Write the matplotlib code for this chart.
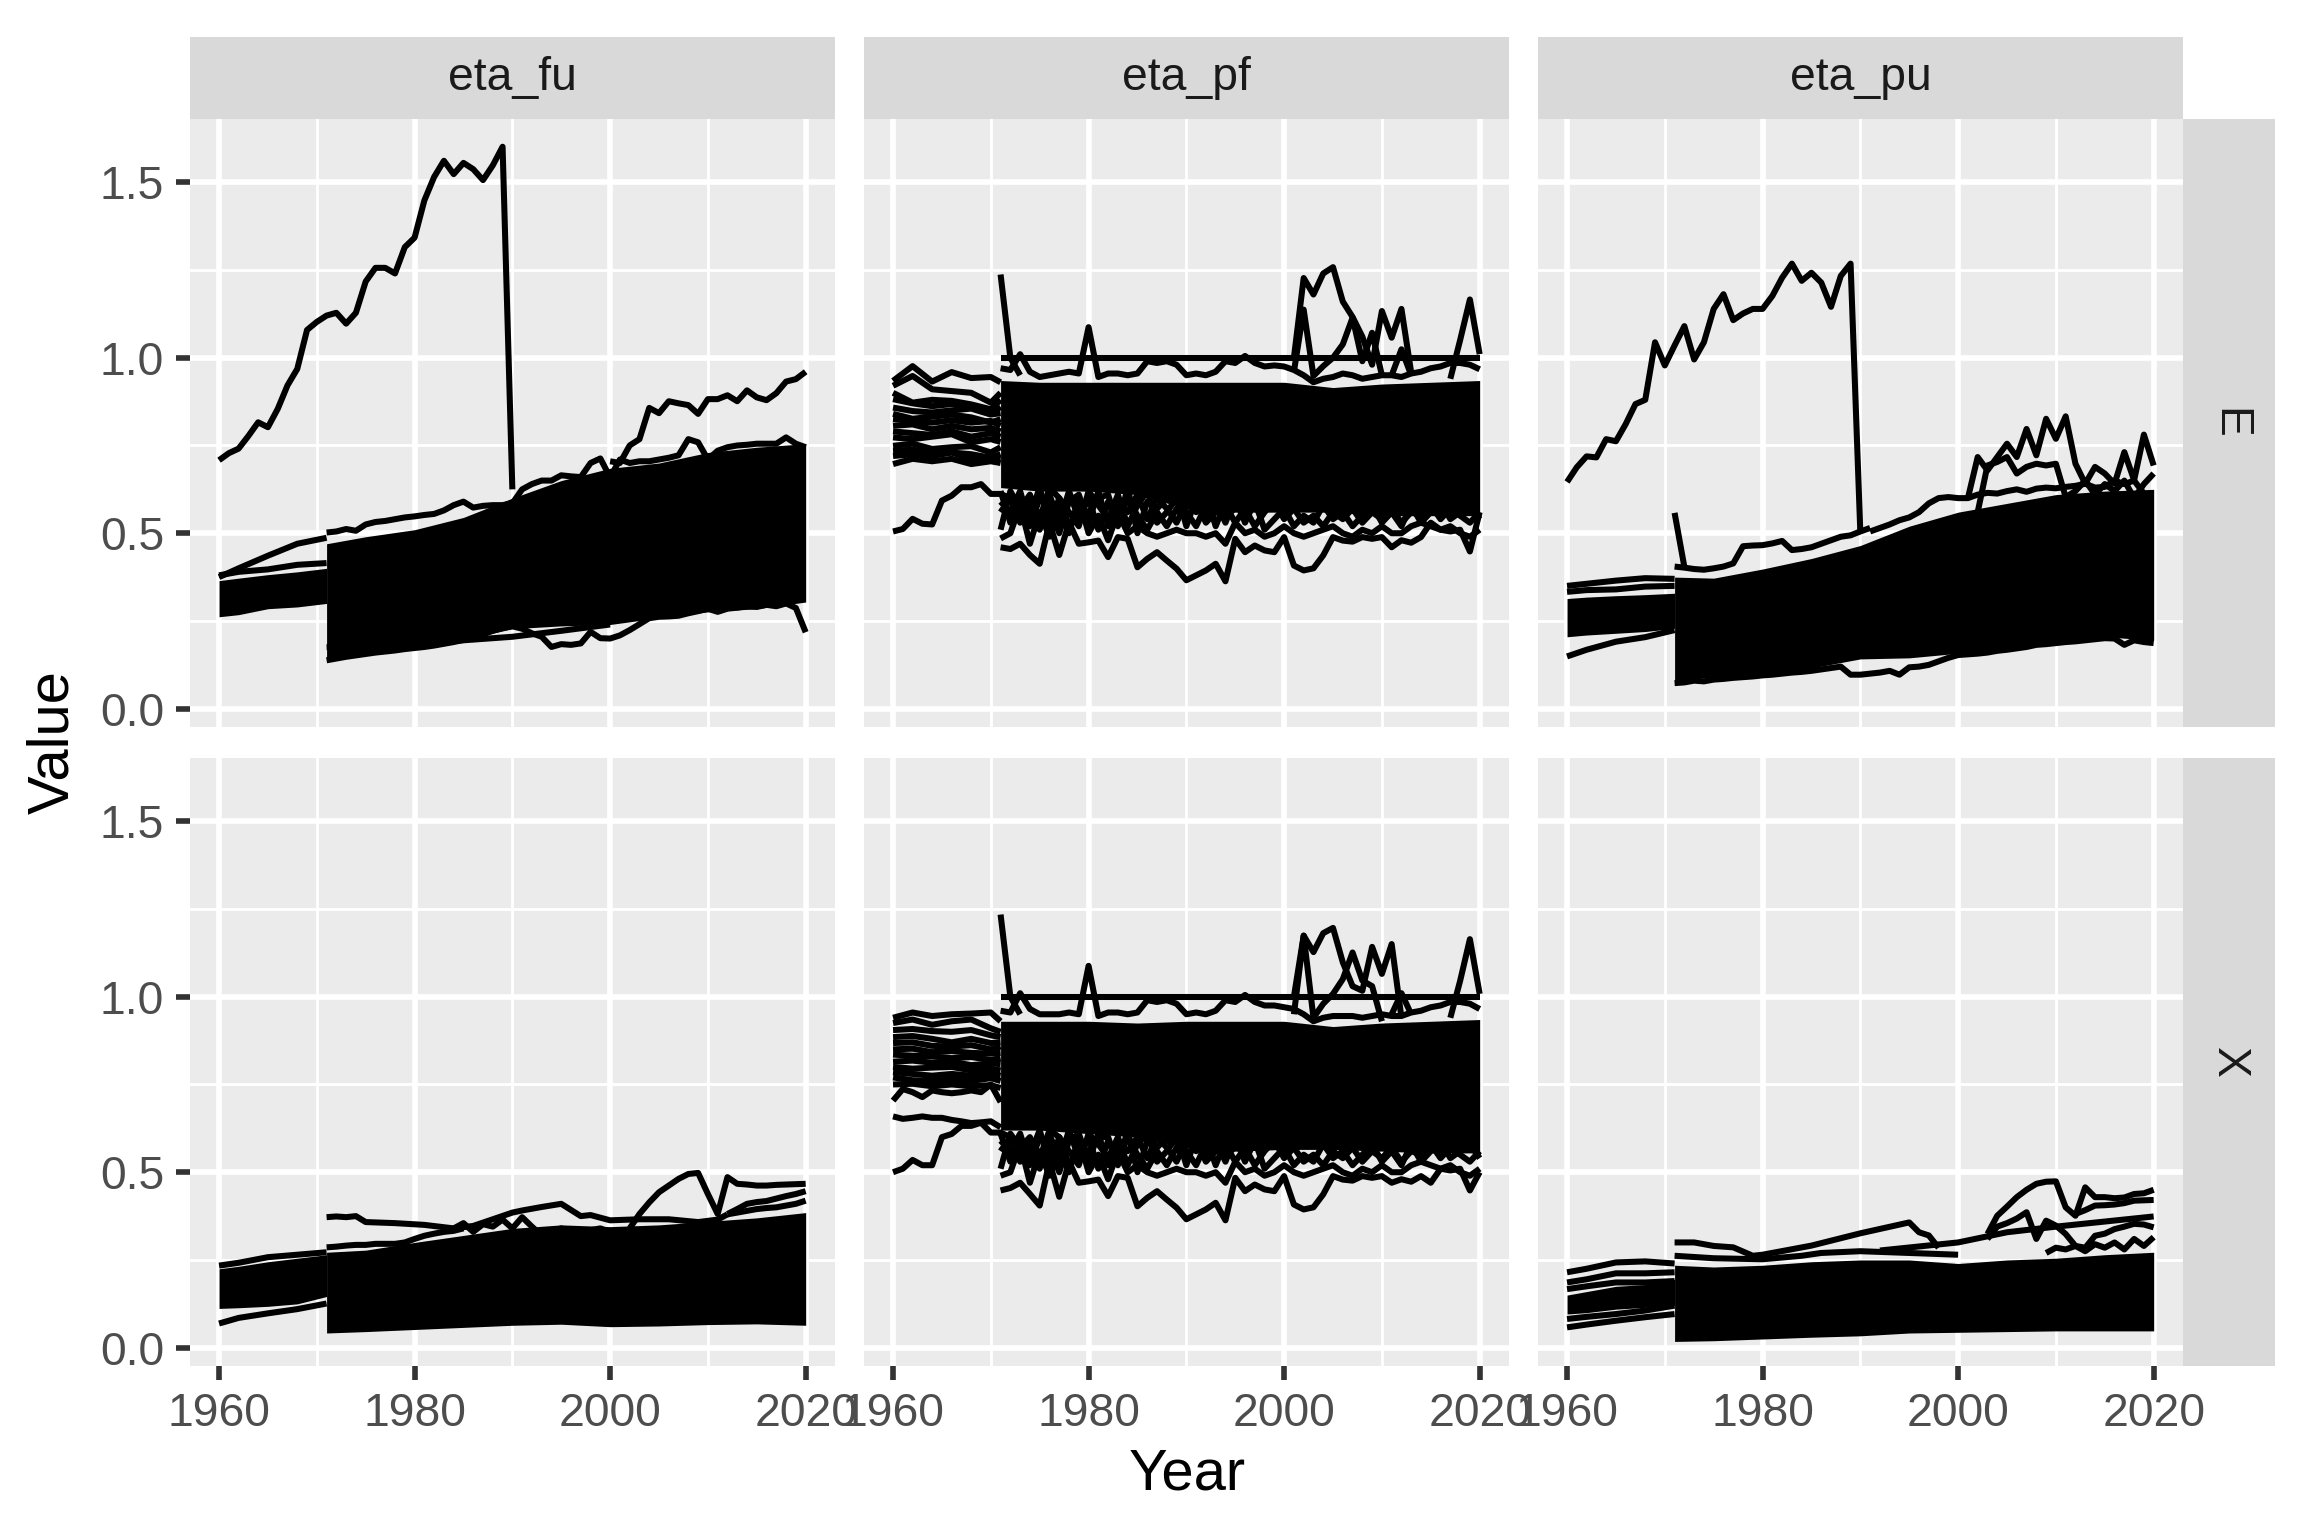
import matplotlib
matplotlib.use("Agg")
import matplotlib.pyplot as plt

plt.rcParams['font.family'] = ['Liberation Sans', 'DejaVu Sans']

COLS = ["eta_fu", "eta_pf", "eta_pu"]
ROWS = ["E", "X"]
X_TICKS = [1960, 1980, 2000, 2020]
X_MINOR = [1970, 1990, 2010]
Y_TICKS = [0.0, 0.5, 1.0, 1.5]
Y_MINOR = [0.25, 0.75, 1.25]
K = [1971, 1975, 1980, 1985, 1990, 1995, 2000, 2005, 2010, 2015, 2020]
KL = [1960, 1962, 1965, 1968, 1971]
KP = [1960, 1962, 1964, 1966, 1968, 1970, 1971]

# ---------- E / eta_fu ----------
E_FU_BODY_LO = [.138, .156, .173, .196, .228, .236, .240, .259, .276, .285, .304]
E_FU_BODY_HI = [.470, .490, .510, .545, .600, .650, .685, .700, .730, .745, .755]
E_FU_LEFT_LO = [.262, .268, .285, .290, .300]
E_FU_LEFT_HI = [.365, .372, .382, .390, .400]
E_FU_SPIKE = [.708, .728, .741, .777, .816, .802, .854, .921, .968, 1.079, 1.102, 1.12, 1.128, 1.097, 1.128, 1.217,
              1.256, 1.256, 1.24, 1.315, 1.342, 1.448, 1.515, 1.561, 1.523, 1.555, 1.537, 1.506, 1.548, 1.601, .625]
E_FU_HIGH = [.705, .700, .750, .768, .857, .842, .876, .870, .865, .840, .882, .882, .893, .876, .907, .887, .879,
             .899, .932, .939, .960]
E_FU_TOP = [.502, .505, .512, .507, .525, .532, .535, .540, .545, .548, .552, .555, .565, .580, .590, .573, .578,
            .580, .580, .585, .625, .640, .650, .650, .665, .662, .660, .700, .713, .659, .710, .700, .705, .705,
            .710, .715, .722, .768, .759, .710, .735, .745, .750, .752, .755, .755, .755, .773, .755, .745]
E_FU_LEFT_A = [.375, .400, .436, .470, .487]
E_FU_LEFT_B = [.380, .390, .397, .410, .415]
E_FU_LOW = [.138, .143, .148, .152, .156, .160, .163, .166, .170, .173, .176, .180, .185, .190, .196, .204, .212,
            .222, .230, .235, .228, .215, .205, .176, .184, .182, .186, .219, .201, .200, .209, .224, .241, .258,
            .262, .263, .265, .272, .278, .285, .276, .285, .288, .292, .290, .296, .292, .300, .287, .218]
E_FU_LOW2 = [.175, .180, .188, .195, .205, .222, .240]

# ---------- E / eta_pf ----------
E_PF_BODY_LO = [.630, .620, .620, .610, .570, .560, .560, .560, .550, .550, .550]
E_PF_BODY_HI = [.935, .930, .930, .930, .930, .930, .930, .915, .925, .930, .935]
E_PF_FLAT_YEARS = [1971, 2020]
E_PF_FLAT = [1.0, 1.0]
E_PF_START = [1.237, 1.0, .95]
E_PF_TOP = [.970, .965, 1.010, .960, .945, .950, .955, .960, .955, 1.087, .945, .955, .955, .950, .955, .990, .985,
            .990, .980, .950, .955, .950, .960, .990, .985, 1.005, .985, .975, .978, .975, .965, .950, .930, .940,
            .945, .955, .950, .940, .945, .950, .950, .945, .955, .960, .970, .975, .985, .985, .980, .967]
E_PF_A = [.460, .455, .470, .438, .413, .530, .438, .530, .470, .474, .479, .432, .489, .484, .403, .427, .446, .422,
          .399, .366, .380, .394, .413, .363, .484, .446, .465, .451, .446, .489, .408, .394, .400, .437, .489, .479,
          .476, .489, .484, .489, .460, .480, .473, .489, .530, .510, .505, .510, .448, .560]
E_PF_B = [.485, .500, .580, .470, .560, .490, .570, .500, .600, .500, .550, .480, .560, .500, .520, .500, .490, .500,
          .510, .500, .500, .490, .500, .470, .530, .500, .510, .490, .500, .520, .500, .490, .500, .510, .520, .500,
          .490, .510, .500, .520, .500, .500, .520, .530, .520, .510, .520, .500, .490, .510]
E_PF_C = [.560, .600, .530, .590, .510, .610, .530, .620, .540, .600, .510, .590, .530, .600, .550, .510, .560, .520,
          .570, .540, .590, .530, .560, .580, .530, .570, .520, .560, .590, .540, .570, .530, .550, .520, .560, .540,
          .570, .530, .560, .540, .570, .530, .560, .550, .580, .540, .570, .550, .530, .560]
E_PF_D = [.620, .530, .610, .550, .630, .520, .600, .560, .520, .620, .580, .540, .610, .520, .580, .620, .530, .560,
          .600, .560, .520, .580, .610, .540, .600, .530, .590, .510, .540, .570, .520, .550, .530, .580, .540, .560,
          .520, .550, .580, .530, .560, .520, .580, .530, .560, .590, .540, .560, .580, .540]
E_PF_E = [.590, .560, .620, .520, .600, .570, .500, .590, .610, .530, .620, .520, .580, .560, .610, .540, .600, .570,
          .530, .590, .560, .610, .520, .590, .560]
E_PF_F = [.510, .620, .570, .610, .540, .630, .600, .520, .570, .560, .600, .610, .520, .630, .500, .590, .570, .600,
          .620, .520, .600, .550, .590, .530, .600]
E_PF_P1 = [1.0, 1.227, 1.180, 1.240, 1.258, 1.160, 1.116, 1.060, .980, 1.133, 1.057, 1.139, .957]
E_PF_P2 = [.960, 1.137, .948, .976, 1.000, 1.038, 1.114, .990, 1.071, .950]
E_PF_P3 = [.950, 1.024, .950]
E_PF_P4 = [.940, 1.050, 1.166, 1.010]
E_PF_LOW60 = [.505, .512, .541, .527, .525, .593, .607, .631, .631, .640, .612, .612, .600]
E_PF_LEFT = [
    [.934, .976, .932, .959, .942, .945, .930],
    [.920, .948, .910, .905, .900, .872, .900],
    [.900, .872, .880, .877, .867, .853, .880],
    [.882, .870, .862, .868, .858, .840, .860],
    [.858, .848, .844, .850, .855, .838, .842],
    [.840, .826, .832, .838, .830, .815, .825],
    [.825, .820, .815, .822, .815, .820, .806],
    [.806, .810, .796, .806, .796, .800, .790],
    [.790, .785, .780, .790, .775, .785, .775],
    [.773, .768, .775, .782, .759, .768, .760],
    [.749, .755, .740, .745, .748, .730, .745],
    [.735, .738, .728, .730, .725, .715, .725],
    [.720, .725, .720, .730, .711, .711, .708],
    [.697, .712, .705, .712, .697, .705, .700],
]

# ---------- E / eta_pu ----------
E_PU_BODY_LO = [.080, .090, .102, .116, .142, .145, .158, .172, .190, .205, .195]
E_PU_BODY_HI = [.375, .372, .398, .428, .465, .520, .560, .585, .610, .620, .625]
E_PU_LEFT_LO = [.205, .210, .215, .220, .229]
E_PU_LEFT_HI = [.314, .318, .322, .325, .329]
E_PU_SPIKE = [.646, .688, .719, .716, .768, .762, .811, .868, .880, 1.044, .978, 1.035, 1.090, .995, 1.044, 1.139,
              1.181, 1.107, 1.126, 1.139, 1.139, 1.176, 1.228, 1.268, 1.219, 1.242, 1.214, 1.145, 1.233, 1.268, .500]
E_PU_START = [.558, .404]
E_PU_HUMP = [.405, .402, .398, .396, .400, .405, .414, .463, .465, .466, .471, .478, .452, .455, .460, .470, .480,
             .490, .494, .505, .515]
E_PU_TOP = [.505, .515, .525, .537, .545, .560, .585, .600, .603, .600, .600, .610, .615, .613, .620, .625, .618,
            .627, .630, .628, .632, .635, .641, .630, .632, .650, .640, .650, .613]
E_PU_L1 = [.600, .717, .679, .717, .755, .717, .797, .722, .826, .769, .833, .698, .641, .689, .670, .641, .731,
           .651, .781, .693]
E_PU_L2 = [.560, .693, .703, .717, .670, .689, .698, .693, .698, .603, .620, .650, .610, .640, .620, .650, .600,
           .640, .670]
E_PU_LOW = [.073, .075, .080, .078, .083, .085, .088, .090, .092, .095, .097, .100, .103, .105, .108, .112, .116,
            .120, .097, .097, .100, .103, .108, .097, .118, .120, .125, .135, .145, .153, .155, .157, .160, .165,
            .168, .172, .176, .182, .184, .187, .190, .192, .195, .198, .201, .200, .182, .195, .190, .187]
E_PU_LEFT_A = [.350, .356, .365, .372, .370]
E_PU_LEFT_B = [.333, .338, .340, .348, .350]
E_PU_LEFT_C = [.149, .168, .191, .204, .224]

# ---------- X / eta_fu ----------
X_FU_BODY_LO = [.042, .046, .052, .058, .064, .067, .060, .062, .066, .068, .064]
X_FU_BODY_HI = [.272, .278, .300, .320, .340, .350, .345, .350, .360, .370, .385]
X_FU_LEFT_LO = [.112, .114, .118, .125, .146]
X_FU_LEFT_HI = [.225, .232, .245, .255, .265]
X_FU_LEFT_TOP = [.234, .242, .258, .265, .272]
X_FU_LOW60 = [.069, .085, .098, .110, .126]
X_FU_EDGE = [.286, .288, .291, .293, .293, .296, .296, .296, .300, .310, .319, .325, .330, .333, .340]
X_FU_RIDGE_YEARS = [1971, 1972, 1973, 1974, 1975, 1978, 1981, 1984, 1986, 1990, 1991, 1993, 1995, 1997, 1998, 2000,
                    2003, 2006, 2009, 2011, 2012]
X_FU_RIDGE = [.372, .374, .372, .375, .358, .355, .350, .340, .347, .385, .391, .401, .410, .375, .378, .363, .366,
              .366, .358, .365, .380]
X_FU_HUMP = [.340, .381, .414, .443, .462, .481, .495, .498, .438, .381, .486, .467, .465, .462, .462, .464, .465,
             .466, .467]
X_FU_L2 = [.381, .395, .410, .415, .418, .425, .432, .438, .446]
X_FU_L3 = [.380, .385, .390, .395, .398, .400, .405, .410, .419]
X_FU_MID = [.340, .355, .330, .352, .345, .365, .340, .372, .345, .320, .332, .340, .330, .325, .335, .340, .330]

# ---------- X / eta_pf ----------
X_PF_BODY_LO = [.620, .620, .610, .600, .570, .560, .565, .565, .560, .555, .555]
X_PF_BODY_HI = [.930, .930, .930, .925, .930, .930, .930, .915, .925, .930, .935]
X_PF_FLAT = [1.0, 1.0]
X_PF_START = [1.234, 1.0, .95]
X_PF_TOP = [.960, .955, 1.010, .965, .950, .950, .950, .955, .950, 1.088, .945, .955, .955, .950, .955, .990, .985,
            .990, .980, .950, .955, .950, .960, .990, .985, 1.005, .985, .975, .975, .970, .965, .950, .930, .940,
            .945, .945, .945, .940, .945, .950, .945, .945, .955, .960, .970, .975, .985, .985, .980, .965]
X_PF_A = [.448, .455, .470, .438, .405, .530, .430, .530, .470, .474, .479, .432, .489, .484, .403, .427, .446, .422,
          .399, .366, .380, .394, .413, .363, .484, .446, .465, .451, .446, .489, .408, .394, .400, .437, .489, .479,
          .476, .489, .484, .489, .470, .480, .473, .489, .470, .510, .505, .510, .448, .500]
X_PF_B = [.490, .500, .580, .470, .560, .490, .570, .500, .600, .500, .550, .480, .560, .500, .520, .500, .490, .500,
          .510, .500, .500, .490, .500, .470, .530, .500, .510, .490, .500, .520, .500, .490, .500, .510, .520, .500,
          .490, .510, .500, .520, .500, .500, .520, .530, .520, .510, .520, .500, .490, .510]
X_PF_C = [.560, .600, .530, .590, .510, .610, .530, .620, .540, .600, .510, .590, .530, .600, .550, .510, .560, .520,
          .570, .540, .590, .530, .560, .580, .530, .570, .520, .560, .590, .540, .570, .530, .550, .520, .560, .540,
          .570, .530, .560, .540, .570, .530, .560, .550, .580, .540, .570, .550, .530, .560]
X_PF_D = [.610, .530, .600, .550, .620, .520, .600, .560, .520, .610, .580, .540, .600, .520, .580, .610, .530, .560,
          .600, .560, .520, .580, .600, .540, .600, .530, .590, .510, .540, .570, .520, .550, .530, .580, .540, .560,
          .520, .550, .580, .530, .560, .520, .580, .530, .560, .590, .540, .560, .580, .540]
X_PF_E = [.590, .560, .610, .520, .600, .570, .500, .590, .610, .530, .610, .520, .580, .560, .600, .540, .600, .570,
          .530, .590, .560, .600, .520, .590, .560]
X_PF_F = [.510, .610, .570, .600, .540, .620, .600, .520, .570, .560, .600, .600, .520, .620, .500, .590, .570, .600,
          .610, .520, .600, .550, .590, .530, .600]
X_PF_P1 = [1.0, 1.174, 1.127, 1.181, 1.196, 1.098, 1.030, 1.017, 1.142, 1.065, 1.150, .940]
X_PF_P2 = [.950, 1.174, .940, .980, 1.008, 1.050, 1.126, 1.046, 1.030, .930]
X_PF_P3 = [.950, 1.010, .950]
X_PF_P4 = [.940, 1.045, 1.164, 1.008]
X_PF_LOW60 = [.500, .510, .535, .520, .520, .600, .609, .632, .632, .641, .613, .613, .600]
X_PF_MID60 = [.659, .652, .655, .659, .655, .655, .649, .645, .640, .642, .645, .628]
X_PF_UP60 = [.704, .737, .728, .714, .733, .728, .725, .728, .733, .728, .750, .700]
X_PF_LEFT = [
    [.940, .955, .945, .950, .952, .955, .930],
    [.925, .935, .920, .930, .935, .910, .900],
    [.905, .908, .902, .900, .905, .890, .885],
    [.885, .888, .880, .870, .880, .868, .870],
    [.868, .870, .860, .858, .862, .850, .858],
    [.850, .852, .842, .845, .840, .838, .840],
    [.835, .832, .830, .825, .828, .820, .825],
    [.815, .818, .812, .815, .805, .810, .808],
    [.800, .795, .798, .800, .790, .795, .790],
    [.785, .780, .775, .780, .775, .780, .775],
    [.770, .762, .760, .765, .760, .768, .760],
    [.750, .752, .745, .750, .745, .748, .740],
]

# ---------- X / eta_pu ----------
X_PU_BODY_LO = [.018, .020, .025, .030, .034, .042, .044, .046, .048, .048, .048]
X_PU_BODY_HI = [.235, .230, .235, .245, .250, .250, .240, .250, .255, .265, .272]
X_PU_LEFT_LO = [.096, .100, .110, .115, .120]
X_PU_LEFT_HI = [.150, .160, .175, .180, .195]
X_PU_LEFT_A = [.215, .225, .243, .246, .240]
X_PU_LEFT_B = [.186, .195, .212, .212, .215]
X_PU_LEFT_C = [.167, .175, .186, .186, .190]
X_PU_LEFT_D = [.082, .088, .096, .106, .120]
X_PU_LEFT_E = [.058, .066, .077, .087, .096]
X_PU_RIDGE_YEARS = [1971, 1973, 1975, 1977, 1979, 1980, 1985, 1987, 1990, 1995, 1996, 1997, 1998]
X_PU_RIDGE = [.300, .300, .290, .286, .262, .265, .291, .305, .326, .357, .329, .320, .285]
X_PU_EDGE_YEARS = [1971, 1975, 1980, 1984, 1986, 1990, 1995, 2000]
X_PU_EDGE = [.262, .255, .252, .262, .270, .275, .270, .265]
X_PU_LINE_YEARS = [1992, 2000, 2005, 2010, 2020]
X_PU_LINE = [.277, .300, .329, .345, .374]
X_PU_HUMP = [.324, .376, .402, .429, .450, .467, .473, .474, .400, .376, .457, .429, .429, .426, .428, .438, .440,
             .450]
X_PU_L2 = [.381, .392, .405, .406, .408, .412, .419, .420, .421]
X_PU_L3 = [.310, .345, .355, .368, .386, .310, .362, .348, .324, .290, .285, .319, .325, .338, .345, .353, .351, .343]
X_PU_L4 = [.270, .285, .280, .290, .275, .295, .285, .300, .280, .310, .290, .315]


def annual(start, vals):
    return list(range(start, start + len(vals))), vals


BODIES = {
    (0, 0): [(KL, E_FU_LEFT_LO, E_FU_LEFT_HI), (K, E_FU_BODY_LO, E_FU_BODY_HI)],
    (0, 1): [(K, E_PF_BODY_LO, E_PF_BODY_HI)],
    (0, 2): [(KL, E_PU_LEFT_LO, E_PU_LEFT_HI), (K, E_PU_BODY_LO, E_PU_BODY_HI)],
    (1, 0): [(KL, X_FU_LEFT_LO, X_FU_LEFT_HI), (K, X_FU_BODY_LO, X_FU_BODY_HI)],
    (1, 1): [(K, X_PF_BODY_LO, X_PF_BODY_HI)],
    (1, 2): [(KL, X_PU_LEFT_LO, X_PU_LEFT_HI), (K, X_PU_BODY_LO, X_PU_BODY_HI)],
}

LINES = {
    (0, 0): [annual(1960, E_FU_SPIKE), annual(2000, E_FU_HIGH), annual(1971, E_FU_TOP), annual(1971, E_FU_LOW),
             (KL, E_FU_LEFT_A), (KL, E_FU_LEFT_B), (K[:7], E_FU_LOW2)],
    (0, 1): [(E_PF_FLAT_YEARS, E_PF_FLAT), annual(1971, E_PF_START), annual(1971, E_PF_TOP), annual(1971, E_PF_A),
             annual(1971, E_PF_B), annual(1971, E_PF_C), annual(1971, E_PF_D), annual(1971, E_PF_E),
             annual(1971, E_PF_F), annual(2001, E_PF_P1),
             annual(2001, E_PF_P2), annual(2011, E_PF_P3), annual(2017, E_PF_P4), annual(1960, E_PF_LOW60)]
            + [(KP, v) for v in E_PF_LEFT],
    (0, 2): [annual(1960, E_PU_SPIKE), annual(1971, E_PU_START), annual(1971, E_PU_HUMP), annual(1991, E_PU_TOP),
             annual(2001, E_PU_L1), annual(2002, E_PU_L2), annual(1971, E_PU_LOW),
             (KL, E_PU_LEFT_A), (KL, E_PU_LEFT_B), (KL, E_PU_LEFT_C)],
    (1, 0): [(KL, X_FU_LEFT_TOP), (KL, X_FU_LOW60), annual(1971, X_FU_EDGE), (X_FU_RIDGE_YEARS, X_FU_RIDGE),
             annual(2002, X_FU_HUMP), annual(2012, X_FU_L2), annual(2012, X_FU_L3), annual(1984, X_FU_MID)],
    (1, 1): [(E_PF_FLAT_YEARS, X_PF_FLAT), annual(1971, X_PF_START), annual(1971, X_PF_TOP), annual(1971, X_PF_A),
             annual(1971, X_PF_B), annual(1971, X_PF_C), annual(1971, X_PF_D), annual(1971, X_PF_E),
             annual(1971, X_PF_F), annual(2001, X_PF_P1),
             annual(2001, X_PF_P2), annual(2011, X_PF_P3), annual(2017, X_PF_P4), annual(1960, X_PF_LOW60),
             annual(1960, X_PF_MID60), annual(1960, X_PF_UP60)] + [(KP, v) for v in X_PF_LEFT],
    (1, 2): [(KL, X_PU_LEFT_A), (KL, X_PU_LEFT_B), (KL, X_PU_LEFT_C), (KL, X_PU_LEFT_D), (KL, X_PU_LEFT_E),
             (X_PU_RIDGE_YEARS, X_PU_RIDGE), (X_PU_EDGE_YEARS, X_PU_EDGE), (X_PU_LINE_YEARS, X_PU_LINE),
             annual(2003, X_PU_HUMP), annual(2012, X_PU_L2), annual(2003, X_PU_L3), annual(2009, X_PU_L4)],
}

W, H = 2304, 1536
DPI = 300
fig = plt.figure(figsize=(W / DPI, H / DPI), dpi=DPI, facecolor="white")


def box(x0, x1, y0, y1):
    return [x0 / W, 1 - y1 / H, (x1 - x0) / W, (y1 - y0) / H]


COL_X = [(190, 835), (864, 1509), (1538, 2183)]
ROW_Y = [(119, 727), (758, 1366)]
STRIP_TOP = (37, 119)
STRIP_RIGHT = (2183, 2275)
GREY_TXT = "#4D4D4D"
LW = 1.35
DATA_LW = 1.45

for r, (y0, y1) in enumerate(ROW_Y):
    for c, (x0, x1) in enumerate(COL_X):
        ax = fig.add_axes(box(x0, x1, y0, y1), facecolor="#EBEBEB")
        ax.set_xlim(1957.03, 2023.0)
        ax.set_ylim(-0.052, 1.68)
        ax.set_xticks(X_TICKS)
        ax.set_xticks(X_MINOR, minor=True)
        ax.set_yticks(Y_TICKS)
        ax.set_yticks(Y_MINOR, minor=True)
        ax.set_axisbelow(True)
        ax.grid(which="major", color="white", lw=LW)
        ax.grid(which="minor", color="white", lw=LW / 2)
        for s in ax.spines.values():
            s.set_visible(False)
        ax.tick_params(which="minor", length=0)
        ax.tick_params(which="major", length=3.47, width=LW, color="#333333", labelsize=11.1,
                       labelcolor=GREY_TXT, pad=2.77,
                       left=c == 0, labelleft=c == 0, bottom=r == 1, labelbottom=r == 1)
        ax.set_yticklabels(["0.0", "0.5", "1.0", "1.5"])
        for years, lo, hi in BODIES[(r, c)]:
            ax.fill_between(years, lo, hi, color="black", lw=0, zorder=3)
        for years, vals in LINES[(r, c)]:
            ax.plot(years, vals, color="black", lw=DATA_LW, solid_joinstyle="round", solid_capstyle="butt", zorder=4)

for c, (x0, x1) in enumerate(COL_X):
    ax = fig.add_axes(box(x0, x1, *STRIP_TOP), facecolor="#D9D9D9")
    ax.set_xticks([])
    ax.set_yticks([])
    for s in ax.spines.values():
        s.set_visible(False)
    ax.text(0.5, 0.5, COLS[c], ha="center", va="center", transform=ax.transAxes, fontsize=11.1, color="#1A1A1A")

for r, (y0, y1) in enumerate(ROW_Y):
    ax = fig.add_axes(box(*STRIP_RIGHT, y0, y1), facecolor="#D9D9D9")
    ax.set_xticks([])
    ax.set_yticks([])
    for s in ax.spines.values():
        s.set_visible(False)
    ax.text(0.5, 0.5, ROWS[r], ha="center", va="center", rotation=-90, transform=ax.transAxes, fontsize=11.1,
            color="#1A1A1A")

fig.text(1187 / W, 1 - 1475 / H, "Year", ha="center", va="center", fontsize=13.9, color="black")
fig.text(53 / W, 1 - 742 / H, "Value", ha="center", va="center", rotation=90, fontsize=13.9, color="black")

fig.savefig("out.png", dpi=DPI, facecolor="white")
